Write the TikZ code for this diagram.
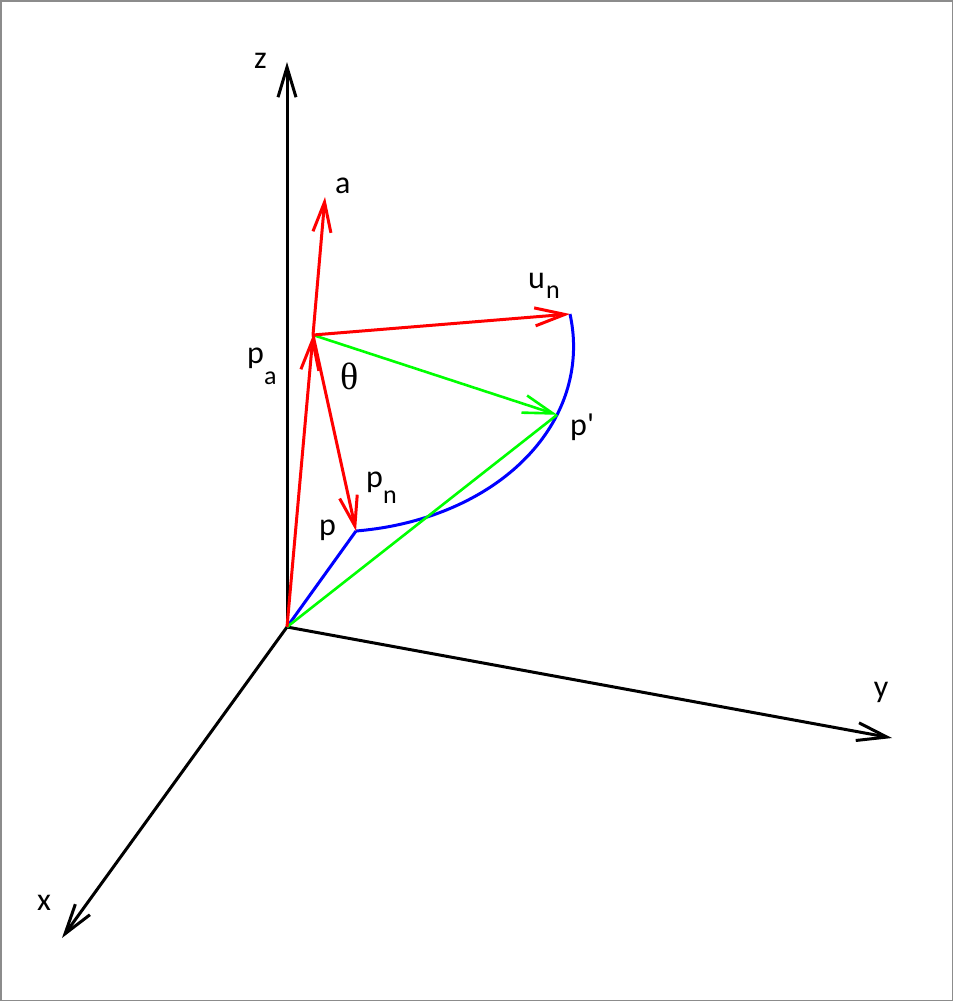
\documentclass[tikz,border=0pt]{standalone}
\usepackage{fontspec}
\setmainfont{Carlito}[Ligatures=TeXOff]
\newfontfamily\thetafont{Liberation Serif}
\usetikzlibrary{arrows.meta}
% subscript: #1 = drop, #2 = kern, #3 = text
\newcommand\lsub[3]{\hspace*{#2}\raisebox{-#1}{\fontsize{26}{26}\selectfont #3}}
\begin{document}
\begin{tikzpicture}[x=1pt,y=-1pt,
  lbl/.style={inner sep=0pt, anchor=base west, font=\fontsize{32}{38}\selectfont},
  axis/.style={black, line width=3pt, -{Straight Barb[length=30pt,width=18pt]}},
  redvec/.style={red, line width=3pt, -{Straight Barb[length=30pt,width=18pt]}},
  greenvec/.style={green, line width=2.6pt, -{Straight Barb[length=30pt,width=18pt]}},
  greenline/.style={green, line width=2.6pt},
  blueline/.style={blue, line width=3pt}]
\useasboundingbox (0,0) rectangle (953,1001);
\draw[black!45, line width=1.5pt] (0.75,0.75) rectangle (952.25,1000.25);
% points
\coordinate (O) at (287,627);
\coordinate (Z) at (287,62);
\coordinate (Y) at (892,738);
\coordinate (X) at (62,938);
\coordinate (Pa) at (313,335);
\coordinate (A) at (325,197);
\coordinate (Un) at (570,314);
\coordinate (P) at (356,531);
\coordinate (Pp) at (557.1,414.8);
% axes
\draw[axis] (O) -- (Z);
\draw[axis] (O) -- (Y);
\draw[axis] (O) -- (X);
% blue
\draw[blueline] (O) -- (P);
\draw[blueline] plot[domain=0:90,samples=80] ({313+43*cos(\x)+257*sin(\x)},{335+196*cos(\x)-21*sin(\x)});
% green
\draw[greenline] (O) -- (Pp);
\draw[greenvec] (Pa) -- (Pp);
% red
\draw[redvec] (O) -- (Pa);
\draw[redvec] (Pa) -- (A);
\draw[redvec] (Pa) -- (Un);
\draw[redvec] (Pa) -- (P);
% labels
\node[lbl] (lz) at (254,68) {z};
\node[lbl, anchor=center] (ly) at (881,692) {y};
\node[lbl, anchor=center] (lx) at (44,903) {x};
\node[lbl] (la) at (335,193) {a};
\node[lbl] (lun) at (528,288) {u\lsub{10pt}{1pt}{n}};
\node[lbl] (lpa) at (247,363) {p\lsub{21pt}{0pt}{a}};
\node[lbl] (lth) at (340,389) {\thetafont\fontsize{38}{44}\selectfont θ};
\node[lbl] (lpp) at (570,435) {p'};
\node[lbl] (lpn) at (366,487) {p\lsub{16pt}{0pt}{n}};
\node[lbl] (lp) at (319,535) {p};
\end{tikzpicture}
\end{document}
